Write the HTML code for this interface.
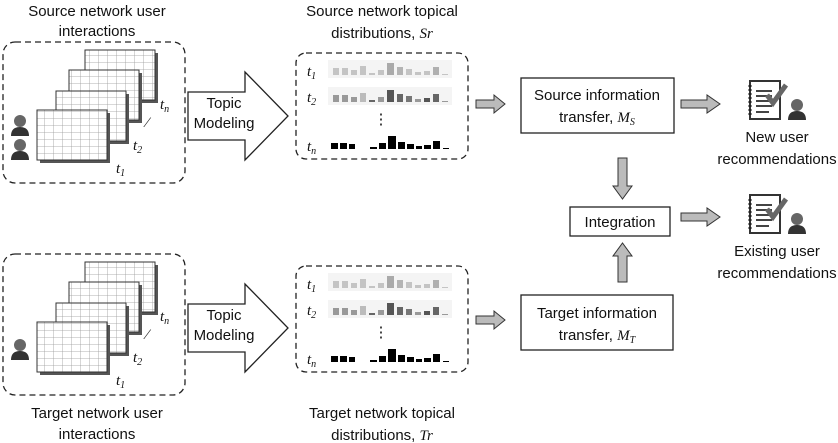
<!DOCTYPE html>
<html><head><meta charset="utf-8"><style>
html,body{margin:0;padding:0;background:#fff}
svg{display:block}
text{font-family:"Liberation Sans",sans-serif;font-size:15px;fill:#111}
.m{font-family:"Liberation Serif",serif;font-style:italic}
</style></head><body>
<svg width="838" height="443" viewBox="0 0 838 443" xmlns="http://www.w3.org/2000/svg">
<defs>
<pattern id="grid" width="9" height="7" patternUnits="userSpaceOnUse">
<rect width="9" height="7" fill="#fff"/>
<path d="M9 0V7M0 7H9" stroke="#999" stroke-width="0.8"/>
</pattern>
<g id="sheets">
<rect x="88" y="53" width="70" height="50" fill="#555"/><rect x="85" y="50" width="70" height="50" fill="url(#grid)" stroke="#333"/>
<rect x="72" y="73" width="70" height="50" fill="#555"/><rect x="69" y="70" width="70" height="50" fill="url(#grid)" stroke="#333"/>
<rect x="59" y="94" width="70" height="50" fill="#555"/><rect x="56" y="91" width="70" height="50" fill="url(#grid)" stroke="#333"/>
<rect x="40" y="113" width="70" height="50" fill="#555"/><rect x="37" y="110" width="70" height="50" fill="url(#grid)" stroke="#333"/>
<text class="m" x="160" y="109" font-size="15">t<tspan font-size="10" dy="3">n</tspan></text>
<text class="m" x="146" y="127" font-size="12">⁄</text>
<text class="m" x="133" y="150" font-size="15">t<tspan font-size="10" dy="3">2</tspan></text>
<text class="m" x="116" y="173" font-size="15">t<tspan font-size="10" dy="3">1</tspan></text>
</g>
<g id="person">
<circle cx="0" cy="0" r="6" fill="#666"/><path d="M-9 15 Q-9 6 0 6 Q9 6 9 15Z" fill="#333"/>
</g>
<path id="topic" d="M188 92H245V72L288 116L245 160V140H188Z" fill="#fff" stroke="#222" stroke-width="1.3"/>
<g id="icon">
<rect x="0" y="0" width="30" height="38" fill="#fff" stroke="#333" stroke-width="2"/>
<path d="M6 10H22M6 15H22M6 20H22M6 25H22M6 31H19" stroke="#444" stroke-width="2"/>
<path d="M0 4v31" stroke="#222" stroke-width="3" stroke-dasharray="2 2"/>
<path d="M17 14L23 22L36 4" stroke="#666" stroke-width="5" fill="none"/>
</g>
</defs>

<text x="97" y="16" text-anchor="middle">Source network user</text>
<text x="97" y="36" text-anchor="middle">interactions</text>
<text x="382" y="16" text-anchor="middle">Source network topical</text>
<text x="382" y="38" text-anchor="middle">distributions, <tspan class="m">Sr</tspan></text>
<text x="97" y="418" text-anchor="middle">Target network user</text>
<text x="97" y="439" text-anchor="middle">interactions</text>
<text x="382" y="418" text-anchor="middle">Target network topical</text>
<text x="382" y="440" text-anchor="middle">distributions, <tspan class="m">Tr</tspan></text>

<rect x="3" y="42" width="182" height="141" rx="12" fill="#fff" stroke="#222" stroke-width="1.3" stroke-dasharray="6 4"/>
<use href="#sheets"/>
<use href="#person" x="20" y="121"/>
<use href="#person" x="20" y="145"/>
<rect x="3" y="254" width="182" height="141" rx="12" fill="#fff" stroke="#222" stroke-width="1.3" stroke-dasharray="6 4"/>
<use href="#sheets" y="212"/>
<use href="#person" x="20" y="345"/>

<use href="#topic"/>
<text x="224" y="108" text-anchor="middle">Topic</text>
<text x="224" y="128" text-anchor="middle">Modeling</text>
<use href="#topic" y="212"/>
<text x="224" y="320" text-anchor="middle">Topic</text>
<text x="224" y="340" text-anchor="middle">Modeling</text>

<g id="dist">
<rect x="296" y="53" width="172" height="106" rx="10" fill="#fff" stroke="#222" stroke-width="1.3" stroke-dasharray="6 4"/>
<rect x="328" y="60" width="124" height="18" fill="#f4f4f4"/>
<rect x="328" y="87" width="124" height="18" fill="#f4f4f4"/>
<text class="m" x="307" y="76">t<tspan font-size="10" dy="3">1</tspan></text>
<text class="m" x="307" y="102">t<tspan font-size="10" dy="3">2</tspan></text>
<text class="m" x="307" y="151">t<tspan font-size="10" dy="3">n</tspan></text>
<text x="381" y="124" font-size="10" text-anchor="middle">⋮</text>
<g fill="#c4c4c4">
<rect x="333" y="68" width="6" height="7"/><rect x="342" y="68" width="6" height="7"/><rect x="351" y="70" width="6" height="5"/><rect x="360" y="66" width="6" height="9"/><rect x="369" y="73" width="6" height="2"/><rect x="378" y="70" width="6" height="5"/><rect x="387" y="63" width="7" height="12" fill="#aaa"/><rect x="397" y="67" width="6" height="8" fill="#b4b4b4"/><rect x="406" y="69" width="6" height="6"/><rect x="415" y="72" width="6" height="3"/><rect x="424" y="71" width="6" height="4"/><rect x="433" y="67" width="6" height="8" fill="#b0b0b0"/><rect x="442" y="74" width="6" height="1"/>
</g>
<g fill="#999">
<rect x="333" y="95" width="6" height="7"/><rect x="342" y="95" width="6" height="7"/><rect x="351" y="97" width="6" height="5"/><rect x="360" y="93" width="6" height="9" fill="#bbb"/><rect x="369" y="100" width="6" height="2" fill="#666"/><rect x="378" y="97" width="6" height="5"/><rect x="387" y="90" width="7" height="12" fill="#555"/><rect x="397" y="94" width="6" height="8" fill="#666"/><rect x="406" y="96" width="6" height="6" fill="#777"/><rect x="415" y="99" width="6" height="3"/><rect x="424" y="98" width="6" height="4" fill="#555"/><rect x="433" y="94" width="6" height="8" fill="#666"/><rect x="442" y="101" width="6" height="1"/>
</g>
<g fill="#000">
<rect x="331" y="143" width="7" height="6"/><rect x="340" y="143" width="7" height="6"/><rect x="349" y="144" width="6" height="5"/><rect x="370" y="147" width="7" height="2"/><rect x="379" y="143" width="7" height="6"/><rect x="388" y="136" width="8" height="13"/><rect x="398" y="142" width="7" height="7"/><rect x="407" y="144" width="7" height="5"/><rect x="416" y="146" width="6" height="3"/><rect x="424" y="145" width="7" height="4"/><rect x="433" y="141" width="7" height="8"/><rect x="443" y="148" width="6" height="1"/>
</g>
</g>
<use href="#dist" y="213"/>

<g fill="#bbb" stroke="#333" stroke-width="1">
<path d="M476 100H494V95L505 104L494 113V108H476Z"/>
<path d="M476 316H494V311L505 320L494 329V324H476Z"/>
<path d="M681 100H707V95L720 104L707 113V108H681Z"/>
<path d="M681 213H707V208L720 217L707 226V221H681Z"/>
<path d="M618 158H627V186H632L622.5 199L613 186H618Z"/>
<path d="M618 282H627V256H632L622.5 243L613 256H618Z"/>
</g>

<rect x="521" y="78" width="153" height="55" fill="#fff" stroke="#222" stroke-width="1.3"/>
<text x="597" y="100" text-anchor="middle">Source information</text>
<text x="597" y="122" text-anchor="middle">transfer, <tspan class="m">M<tspan font-size="10" dy="3">S</tspan></tspan></text>
<rect x="570" y="207" width="100" height="29" fill="#fff" stroke="#222" stroke-width="1.3"/>
<text x="620" y="227" text-anchor="middle">Integration</text>
<rect x="521" y="295" width="152" height="55" fill="#fff" stroke="#222" stroke-width="1.3"/>
<text x="597" y="318" text-anchor="middle">Target information</text>
<text x="597" y="340" text-anchor="middle">transfer, <tspan class="m">M<tspan font-size="10" dy="3">T</tspan></tspan></text>

<use href="#icon" x="750" y="81"/>
<use href="#person" x="797" y="105"/>
<text x="777" y="142" text-anchor="middle">New user</text>
<text x="777" y="164" text-anchor="middle">recommendations</text>
<use href="#icon" x="750" y="195"/>
<use href="#person" x="797" y="219"/>
<text x="777" y="256" text-anchor="middle">Existing user</text>
<text x="777" y="278" text-anchor="middle">recommendations</text>
</svg>
</body></html>
